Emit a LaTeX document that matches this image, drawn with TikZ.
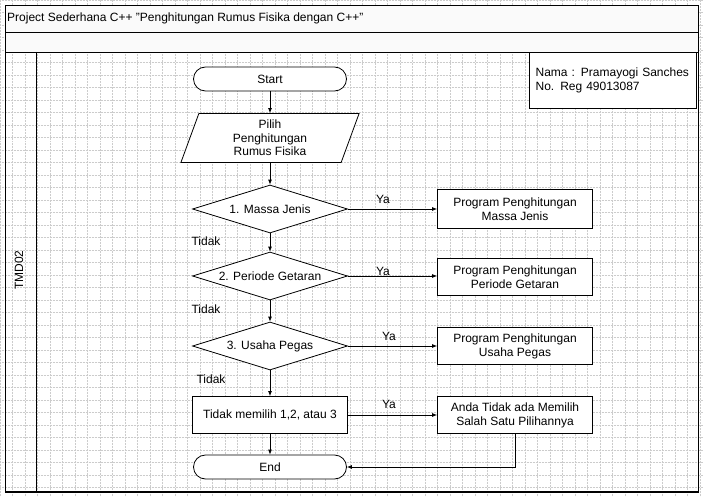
\documentclass[tikz,border=0pt]{standalone}
\usepackage{fontspec}
\setmainfont{Liberation Sans}
\usetikzlibrary{shapes.geometric,shapes.misc,arrows.meta}
\begin{document}
\begin{tikzpicture}[x=1pt,y=-1pt,font=\fontsize{12}{14}\selectfont,
  box/.style={draw,thick,fill=white,minimum width=155pt,align=center,inner sep=1pt},
  term/.style={box,rounded rectangle,minimum height=24pt},
  proc/.style={box,rectangle,minimum height=37pt},
  dec/.style={draw,thick,fill=white,diamond,aspect=3.2,minimum width=155pt,minimum height=48pt,inner sep=0pt},
  io/.style={draw,thick,fill=white,trapezium,trapezium stretches=true,trapezium left angle=75,trapezium right angle=105,minimum width=180pt,minimum height=49pt,align=center,inner xsep=1pt,inner ysep=0pt,font=\fontsize{12}{13.5}\selectfont},
  arr/.style={thick,-{Latex[length=5pt,width=4pt]}},
  lbl/.style={inner sep=1pt},
  grd/.style={gray!40,densely dotted,line width=0.5pt}]
\useasboundingbox (0,0) rectangle (703,497);
\fill[white] (0,0) rectangle (703,497);
\foreach \i in {0,...,56} {\draw[grd] (\i*12.5,0) -- (\i*12.5,497);}
\foreach \j in {0,...,40} {\draw[grd] (0,\j*12.5) -- (703,\j*12.5);}
\fill[white!96!gray] (5,5) rectangle (698,52);
\draw[thick] (5,5) rectangle (698,492);
\draw[thick] (5,32) -- (698,32);
\draw[thick] (5,52) -- (698,52);
\draw[thick] (36,52) -- (36,492);
\draw[very thick] (5,492) -- (698,492);
\node[anchor=west,lbl] (title) at (6,18) {Project Sederhana C++ "Penghitungan Rumus Fisika dengan C++"};
\node[rotate=90,lbl] (lane) at (19,270) {TMD02};
\node[draw,thick,fill=white,anchor=north east,minimum width=167pt,minimum height=56pt,align=left,text width=155pt] (nama) at (697,52) {Nama : Pramayogi Sanches\\No. Reg 49013087};

\node[term] (start) at (270,79) {Start};
\node[io] (pilih) at (270,138) {Pilih\\Penghitungan\\Rumus Fisika};
\node[dec] (d1) at (270,209) {1. Massa Jenis};
\node[dec] (d2) at (270,276) {2. Periode Getaran};
\node[dec] (d3) at (270,346) {3. Usaha Pegas};
\node[proc] (t) at (270,415) {Tidak memilih 1,2, atau 3};
\node[term] (end) at (270,467) {End};
\node[proc,minimum height=39pt] (p1) at (515,209) {Program Penghitungan\\Massa Jenis};
\node[proc] (p2) at (515,277) {Program Penghitungan\\Periode Getaran};
\node[proc] (p3) at (515,346) {Program Penghitungan\\Usaha Pegas};
\node[proc] (p4) at (515,415) {Anda Tidak ada Memilih\\Salah Satu Pilihannya};

\draw[arr] (start.south) -- (start.south |- pilih.north);
\draw[arr] (d1.north |- pilih.south) -- (d1.north);
\draw[arr] (d1) -- (d2);
\draw[arr] (d2) -- (d3);
\draw[arr] (d3) -- (t);
\draw[arr] (t) -- (end);
\draw[arr] (d1) -- (p1);
\draw[arr] (d2.east) -- (p2.west |- d2.east);
\draw[arr] (d3) -- (p3);
\draw[arr] (t) -- (p4);
\draw[arr] (p4.south) |- (end.east);

\node[lbl] (y1) at (383,199) {Ya};
\node[lbl] (y2) at (383,271) {Ya};
\node[lbl] (y3) at (389,336) {Ya};
\node[lbl] (y4) at (389,404) {Ya};
\node[lbl] (n1) at (206,241) {Tidak};
\node[lbl] (n2) at (206,309) {Tidak};
\node[lbl] (n3) at (211,379) {Tidak};
\end{tikzpicture}
\end{document}
